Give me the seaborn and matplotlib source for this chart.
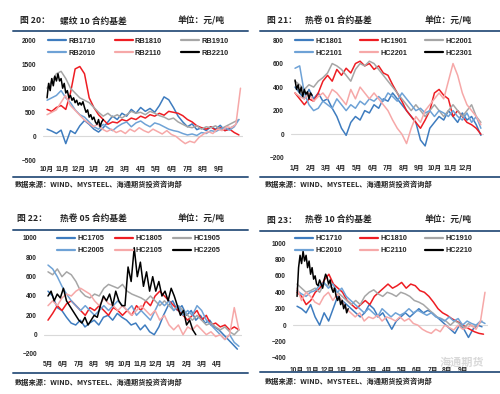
import numpy as np
import pandas as pd
import seaborn as sns
import matplotlib.pyplot as plt
from matplotlib.lines import Line2D

# ---- data (basis, yuan/ton), month 0 = first month on each axis ----
rb_labels = ['RB1710', 'RB1810', 'RB1910', 'RB2010', 'RB2110', 'RB2210']
rb_months = ['10月', '11月', '12月', '1月', '2月', '3月', '4月', '5月', '6月', '7月', '8月', '9月']
rb_span = [(0, 12.0), (0, 12.3), (0, 12.3), (0, 12.3), (0, 12.4), (0, 3.6)]
rb1710 = [150, 110, 60, 130, -150, 120, 60, 220, 330, 250, 150, 90, 180, 300, 420, 350, 480, 420, 560, 480, 600,
          520, 580, 500, 640, 820, 760, 600, 420, 300, 200, 260, 140, 180, 120, 200, 150, 230, 120, 160, 220]
rb1810 = [560, 520, 600, 640, 560, 900, 1400, 1450, 1300, 800, 600, 450, 350, 250, 300, 280, 350, 320, 380, 350, 420,
          380, 450, 420, 480, 440, 520, 500, 480, 430, 350, 300, 220, 180, 150, 200, 130, 180, 120, 150, 80, 30]
rb1910 = [1000, 1150, 1300, 1350, 1200, 1000, 900, 800, 750, 700, 600, 500, 420, 480, 400, 450, 380, 450, 520, 480,
          500, 450, 520, 480, 430, 400, 350, 380, 300, 250, 200, 180, 220, 150, 200, 180, 220, 150, 200, 250, 300, 350]
rb2010 = [750, 800, 850, 950, 800, 700, 550, 450, 400, 300, 200, 150, 250, 180, 120, 200, 260, 300, 200, 280, 320,
          250, 200, 280, 250, 200, 150, 120, 100, 60, 30, 50, 20, 80, 60, 120, 100, 150, 180, 130, 200, 350]
rb2110 = [450, 500, 550, 700, 850, 650, 550, 450, 350, 280, 200, 250, 150, 100, 150, 80, 120, 60, 150, 100, 180, 120,
          80, 150, 100, 50, 120, 40, 0, -80, -150, -100, -130, -20, 50, 100, 60, 150, 120, 200, 180, 250, 1000]
rb2210 = [800, 1100, 950, 1200, 1050, 1250, 1150, 1300, 1150, 1200, 1000, 1100, 900, 950, 800, 850, 750, 800, 700,
          750, 650, 700, 650, 720, 600, 500, 550, 400, 450, 350, 400, 300, 250, 350, 200, 300, 350]

h01_labels = ['HC1801', 'HC1901', 'HC2001', 'HC2101', 'HC2201', 'HC2301']
h01_months = ['1月', '2月', '3月', '4月', '5月', '6月', '7月', '8月', '9月', '10月', '11月', '12月']
h01_span = [(0, 12.0), (0, 12.0), (0, 12.0), (0, 12.0), (0, 12.0), (0, 1.1)]
hc1801 = [400, 350, 300, 380, 300, 350, 280, 300, 220, 150, 50, -10, 100, 150, 120, 200, 180, 250, 220, 300, 280,
          350, 300, 250, 200, 150, 100, -50, -100, 50, 100, 150, 120, 200, 150, 100, 180, 120, 150, 80, -10]
hc1901 = [350, 300, 250, 300, 280, 350, 450, 500, 450, 550, 500, 560, 520, 600, 620, 580, 600, 550, 580, 520, 500,
          420, 350, 280, 200, 150, 100, 50, 120, 200, 350, 380, 330, 300, 150, 200, 150, 100, 80, 50, 0]
hc2001 = [450, 420, 380, 420, 400, 450, 480, 520, 600, 580, 550, 500, 450, 550, 600, 580, 620, 600, 550, 500, 450,
          400, 350, 300, 250, 200, 250, 200, 150, 200, 250, 200, 150, 200, 250, 200, 150, 200, 250, 150, 100]
hc2101 = [560, 580, 350, 250, 200, 220, 280, 250, 220, 300, 250, 200, 250, 220, 280, 250, 300, 280, 320, 280, 350,
          320, 280, 350, 300, 250, 200, 220, 180, 200, 150, 200, 180, 150, 200, 150, 120, 180, 100, 150, 50]
hc2201 = [350, 320, 300, 350, 280, 320, 350, 300, 380, 350, 300, 250, 380, 300, 400, 350, 300, 350, 300, 250, 200,
          120, 50, 0, -80, 50, 150, 100, 200, 250, 300, 350, 300, 450, 600, 500, 350, 250, 200, 150, 80]
hc2301 = [460, 380, 420, 350, 400, 320, 380, 340, 360, 300, 350, 330]

h05_labels = ['HC1705', 'HC1805', 'HC1905', 'HC2005', 'HC2105', 'HC2205']
h05_months = ['5月', '6月', '7月', '8月', '9月', '10月', '11月', '12月', '1月', '2月', '3月', '4月']
h05_span = [(0, 12.3), (0, 12.4), (0, 12.4), (0, 12.4), (0, 12.4), (0, 9.6)]
hc1705 = [450, 400, 280, 250, 180, 120, 100, 150, 80, 120, 150, 100, 180, 200, 150, 220, 180, 150, 100, 120, 50,
          100, 30, 0, 80, 200, 300, 350, 250, 300, 200, 250, 150, 200, 120, 150, 80, 50, 0, -50, -100, -150]
hc1805 = [150, 220, 300, 250, 320, 350, 300, 250, 200, 280, 250, 300, 250, 200, 280, 250, 200, 250, 200, 300, 250,
          350, 300, 400, 450, 400, 350, 300, 250, 200, 150, 200, 250, 150, 200, 100, 120, 80, 100, 50, 80, 50]
hc1905 = [650, 620, 680, 600, 650, 620, 550, 450, 400, 380, 420, 400, 480, 520, 500, 480, 520, 450, 420, 400, 380,
          350, 400, 350, 300, 350, 300, 250, 300, 250, 200, 150, 200, 150, 100, 120, 80, 50, 80, 30, 0, 50]
hc2005 = [720, 680, 600, 500, 420, 350, 300, 250, 300, 250, 200, 250, 300, 250, 300, 350, 300, 250, 300, 200, 250,
          200, 150, 250, 350, 300, 350, 250, 300, 200, 250, 200, 300, 250, 150, 100, 50, 0, -50, 0, -80, -120]
hc2105 = [300, 350, 300, 380, 420, 400, 450, 480, 450, 420, 350, 300, 380, 320, 300, 250, 300, 250, 200, 250, 300,
          250, 200, 250, 150, 200, 100, 50, 100, 0, 80, 50, 100, 50, 0, 30, -20, 0, -50, 0, 280, 50]
hc2205 = [400, 450, 350, 420, 380, 480, 350, 300, 250, 200, 150, 120, 180, 100, 150, 200, 180, 300, 400, 350, 420,
          300, 450, 350, 300, 300, 700, 550, 900, 600, 750, 500, 650, 450, 600, 450, 550, 400, 450, 350, 480, 400,
          300, 200, 250, 100, 150, 50, 0]

h10_labels = ['HC1710', 'HC1810', 'HC1910', 'HC2010', 'HC2110', 'HC2210']
h10_months = ['10月', '11月', '12月', '1月', '2月', '3月', '4月', '5月', '6月', '7月', '8月', '9月']
h10_span = [(0, 12.3), (0, 12.4), (0, 12.3), (0, 12.5), (0, 12.5), (0, 3.4)]
hc1710 = [230, 200, 150, 250, 100, 0, 150, 50, 200, 350, 300, 250, 200, 150, 100, 150, 250, 200, 100, 150, 50,
          -50, 50, 100, 150, 100, 150, 200, 150, 180, 150, 100, 50, 0, -50, -100, 0, -50, -150, -50, 0, -20]
hc1810 = [400, 350, 250, 300, 400, 450, 550, 620, 500, 450, 400, 300, 250, 200, 250, 300, 250, 350, 400, 450, 500,
          450, 480, 520, 450, 500, 480, 420, 400, 350, 280, 200, 150, 120, 80, 50, 20, -20, -50, -80, -100, -110]
hc1910 = [500, 450, 400, 420, 450, 400, 500, 480, 450, 400, 350, 300, 250, 300, 250, 350, 400, 430, 380, 350, 400,
          380, 350, 400, 380, 350, 300, 280, 250, 200, 150, 100, 80, 50, 0, 50, 20, -30, 20, -20, 0, 50]
hc2010 = [420, 380, 350, 400, 420, 480, 520, 450, 500, 400, 450, 350, 300, 250, 200, 150, 200, 150, 100, 200, 150,
          100, 150, 120, 150, 200, 150, 180, 150, 120, 150, 100, 80, 50, 100, 50, 80, 0, 50, 20, 0, 50, 20]
hc2110 = [450, 300, 400, 350, 280, 250, 350, 400, 300, 380, 300, 200, 150, 100, 150, 50, 100, 80, 120, 50, 100, 80,
          50, 100, 50, 80, 20, 0, -50, -80, -100, -50, -80, 0, -30, -60, 0, -50, -30, 0, -50, 50, 400]
hc2210 = [350, 700, 850, 750, 900, 780, 850, 700, 780, 620, 700, 560, 600, 500, 480, 550, 500, 450, 550, 620, 580,
          500, 550, 450, 400, 450, 350, 300, 350, 250, 300, 200, 250, 150, 200]


def make_df(labels, series, spans):
    parts = []
    for lab, vals, (a, b) in zip(labels, series, spans):
        t = pd.DataFrame({'month': np.linspace(a, b, len(vals)), 'basis': vals})
        t['contract'] = lab
        parts.append(t)
    return pd.concat(parts, ignore_index=True)


W, H = 500, 394
fx = lambda x: x / W
fy = lambda y: 1 - y / H

sns.set_theme(style='white')
plt.rcParams['font.family'] = ['Liberation Sans', 'Noto Sans CJK SC', 'DejaVu Sans']
plt.rcParams['font.weight'] = 'bold'

colors = ['#3e7cbf', '#ee1d23', '#a6a6a6', '#6ea2d6', '#f6a8a8', '#000000']
navy = '#3d5f86'
cjk = ['Noto Sans CJK SC', 'DejaVu Sans']
row_order = [0, 3, 1, 4, 2, 5]  # legend reads across rows

fig = plt.figure(figsize=(W / 100, H / 100), dpi=100)

panels = [
    # df, labels, months, axes box px (l, t, r, b), ylim, ystep, xlim, legend (x, y, colspacing), xpad
    (make_df(rb_labels, [rb1710, rb1810, rb1910, rb2010, rb2110, rb2210], rb_span), rb_labels, rb_months,
     (43, 40, 243, 160.5), (-500, 2000), 500, (-0.26, 12.56), (48, 37.5, 2.6), 3.6),
    (make_df(h01_labels, [hc1801, hc1901, hc2001, hc2101, hc2201, hc2301], h01_span), h01_labels, h01_months,
     (291, 40, 484, 157.7), (-200, 800), 200, (-0.26, 12.2), (295, 37.5, 2.45), 4.9),
    (make_df(h05_labels, [hc1705, hc1805, hc1905, hc2005, hc2105, hc2205], h05_span), h05_labels, h05_months,
     (44, 238, 242, 354), (-200, 1000), 200, (-0.26, 12.6), (57, 235, 1.5), 4.7),
    (make_df(h10_labels, [hc1710, hc1810, hc1910, hc2010, hc2110, hc2210], h10_span), h10_labels, h10_months,
     (293, 243, 488, 358), (-400, 1000), 200, (-0.27, 12.7), (295, 235, 2.45), 6.8),
]

for df, labels, months, (l, t, r, b), ylim, ystep, xlim, (lx, ly, cs), xpad in panels:
    ax = fig.add_axes([fx(l), fy(b), (r - l) / W, (b - t) / H])
    ax.axhline(0, color='#d9d9d9', lw=0.8, zorder=0)
    sns.lineplot(data=df, x='month', y='basis', hue='contract', hue_order=labels, palette=colors,
                 estimator=None, sort=False, lw=1.1, legend=False, ax=ax)
    ax.set_xlim(*xlim)
    ax.set_ylim(*ylim)
    ax.set_xticks(range(12))
    ax.set_xticklabels(months)
    ax.set_yticks(np.arange(ylim[0], ylim[1] + 1, ystep))
    ax.tick_params(axis='x', length=0, labelsize=4.8, pad=xpad)
    ax.tick_params(axis='y', length=0, labelsize=4.7, pad=5)
    ax.set_xlabel('')
    ax.set_ylabel('')
    sns.despine(ax=ax, left=True, bottom=True)
    ax.patch.set_alpha(0)
    handles = [Line2D([], [], color=colors[i], lw=1.6) for i in row_order]
    ax.legend(handles, [labels[i] for i in row_order], ncol=3, loc='upper left',
              bbox_to_anchor=(fx(lx), fy(ly)), bbox_transform=fig.transFigure, frameon=False, fontsize=5.3,
              handlelength=2.45, handletextpad=0.3, columnspacing=cs, labelspacing=0.65, borderpad=0,
              borderaxespad=0)

# titles, rules and source notes
titles = [
    (20, 60, 178, 21, '图 20：', '螺纹 10 合约基差'),
    (267, 305, 425, 21, '图 21：', '热卷 01 合约基差'),
    (17, 60, 178, 219, '图 22：', '热卷 05 合约基差'),
    (267, 305, 425, 220, '图 23：', '热卷 10 合约基差'),
]
for x1, x2, x3, y, num, name in titles:
    fig.text(fx(x1), fy(y), num, fontsize=6.3, fontweight='heavy', family=cjk, va='center')
    fig.text(fx(x2), fy(y), name, fontsize=6.3, fontweight='heavy', family=cjk, va='center')
    fig.text(fx(x3), fy(y), '单位：元/吨', fontsize=6.3, fontweight='heavy', family=cjk, va='center')

rules = [(13, 248, 31), (260, 500, 31), (13, 248, 177), (260, 500, 177),
         (13, 248, 230), (260, 500, 231), (13, 248, 373), (260, 500, 372)]
for x0, x1, y in rules:
    fig.add_artist(Line2D([fx(x0), fx(x1)], [fy(y), fy(y)], transform=fig.transFigure, color=navy, lw=1.4))

for x, y in [(15, 184), (265, 184), (15, 382), (265, 381)]:
    fig.text(fx(x), fy(y), '数据来源：WIND、MYSTEEL、海通期货投资咨询部', fontsize=5.2, fontweight='heavy',
             family=cjk, va='center')

# faint watermark as in the source image
fig.text(fx(440), fy(362), '海通期货', fontsize=8, color='#c8c8c8', alpha=0.7, family=cjk, va='center')

plt.savefig('out.png', dpi=100)
